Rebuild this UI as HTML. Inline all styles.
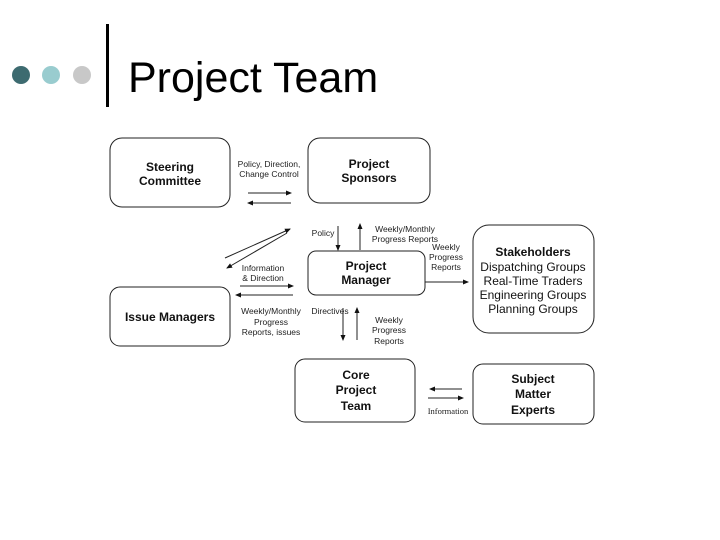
<!DOCTYPE html>
<html><head><meta charset="utf-8"><style>
body{margin:0;background:#fff}
svg{display:block}
.b{font-family:"Liberation Sans",sans-serif;font-weight:bold;font-size:12px;text-anchor:middle;fill:#111}
.n{font-family:"Liberation Sans",sans-serif;font-size:12px;text-anchor:middle;fill:#111}
.s{font-family:"Liberation Sans",sans-serif;font-size:8.5px;text-anchor:middle;fill:#222}
</style></head><body>
<svg width="720" height="540" viewBox="0 0 720 540" xmlns="http://www.w3.org/2000/svg">
<defs><marker id="a" markerWidth="6" markerHeight="6" refX="5" refY="3" orient="auto" markerUnits="userSpaceOnUse"><path d="M0,0.5 L6,3 L0,5.5z" fill="#111"/></marker></defs>
<circle cx="21" cy="75" r="9" fill="#3d6b70"/>
<circle cx="51" cy="75" r="9" fill="#99cccf"/>
<circle cx="82" cy="75" r="9" fill="#c8c8c8"/>
<rect x="106" y="24" width="3" height="83" fill="#000"/>
<text x="128" y="92" font-family="Liberation Sans,sans-serif" font-size="43" fill="#000">Project Team</text>
<g fill="none" stroke="#222" stroke-width="1">
<rect x="110" y="138" width="120" height="69" rx="12"/>
<rect x="308" y="138" width="122" height="65" rx="12"/>
<rect x="110" y="287" width="120" height="59" rx="10"/>
<rect x="308" y="251" width="117" height="44" rx="8"/>
<rect x="473" y="225" width="121" height="108" rx="16"/>
<rect x="295" y="359" width="120" height="63" rx="10"/>
<rect x="473" y="364" width="121" height="60" rx="10"/>
<g marker-end="url(#a)">
<line x1="248" y1="193" x2="291" y2="193"/>
<line x1="291" y1="203" x2="248" y2="203"/>
<line x1="225" y1="258" x2="290" y2="229"/>
<line x1="287" y1="233" x2="227" y2="268"/>
<line x1="240" y1="286" x2="293" y2="286"/>
<line x1="293" y1="295" x2="236" y2="295"/>
<line x1="338" y1="226" x2="338" y2="250"/>
<line x1="360" y1="250" x2="360" y2="224"/>
<line x1="343" y1="308" x2="343" y2="340"/>
<line x1="357" y1="340" x2="357" y2="308"/>
<line x1="425" y1="282" x2="468" y2="282"/>
<line x1="462" y1="389" x2="430" y2="389"/>
<line x1="428" y1="398" x2="463" y2="398"/>
</g></g>
<text class="b" x="170" y="171">Steering</text><text class="b" x="170" y="185">Committee</text>
<text class="b" x="369" y="168">Project</text><text class="b" x="369" y="182">Sponsors</text>
<text class="b" x="170" y="321">Issue Managers</text>
<text class="b" x="366" y="270">Project</text><text class="b" x="366" y="284">Manager</text>
<text class="b" x="533" y="256">Stakeholders</text>
<text class="n" x="533" y="271">Dispatching Groups</text>
<text class="n" x="533" y="285">Real-Time Traders</text>
<text class="n" x="533" y="299">Engineering Groups</text>
<text class="n" x="533" y="313">Planning Groups</text>
<text class="b" x="356" y="379">Core</text><text class="b" x="356" y="394">Project</text><text class="b" x="356" y="410">Team</text>
<text class="b" x="533" y="383">Subject</text><text class="b" x="533" y="398">Matter</text><text class="b" x="533" y="414">Experts</text>
<text class="s" x="269" y="167">Policy, Direction,</text><text class="s" x="269" y="177">Change Control</text>
<text class="s" x="323" y="236">Policy</text>
<text class="s" x="405" y="232">Weekly/Monthly</text><text class="s" x="405" y="242">Progress Reports</text>
<text class="s" x="446" y="250">Weekly</text><text class="s" x="446" y="260">Progress</text><text class="s" x="446" y="270">Reports</text>
<text class="s" x="263" y="271">Information</text><text class="s" x="263" y="281">&amp; Direction</text>
<text class="s" x="271" y="314">Weekly/Monthly</text><text class="s" x="271" y="325">Progress</text><text class="s" x="271" y="335">Reports, issues</text>
<text class="s" x="330" y="314">Directives</text>
<text class="s" x="389" y="323">Weekly</text><text class="s" x="389" y="333">Progress</text><text class="s" x="389" y="344">Reports</text>
<text x="448" y="414" font-family="Liberation Serif,serif" font-size="8.5" text-anchor="middle" fill="#222">Information</text>
</svg>
</body></html>
